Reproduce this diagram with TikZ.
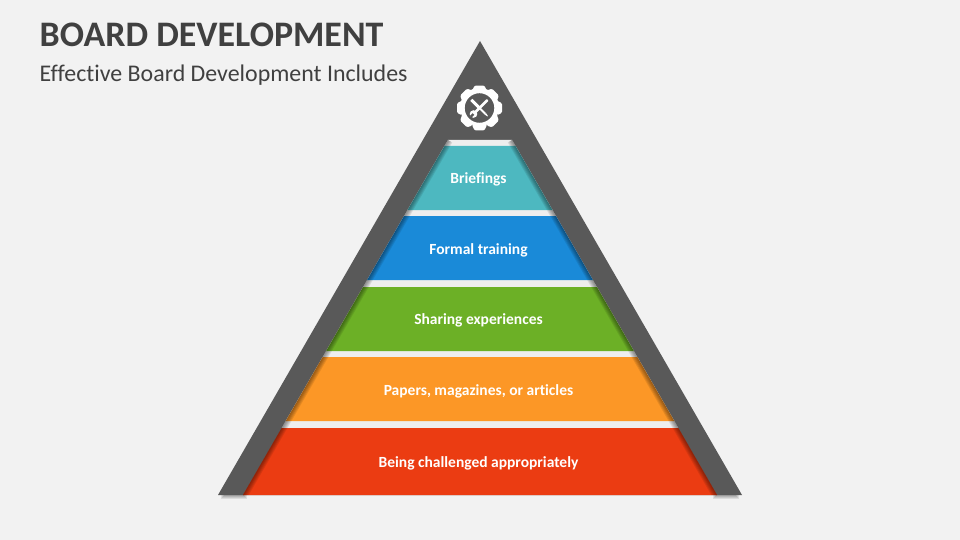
\documentclass[tikz,border=0pt]{standalone}
\usepackage{fontspec}
\setmainfont[Ligatures=CommonOff]{Carlito}
\usetikzlibrary{calc}
\definecolor{pagebg}{HTML}{F2F2F2}
\definecolor{stripc}{HTML}{EEEEEE}
\definecolor{pyr}{HTML}{595959}
\definecolor{inkc}{HTML}{404040}
\definecolor{teal1}{HTML}{4DB8C0}
\definecolor{blue1}{HTML}{1A8AD8}
\definecolor{green1}{HTML}{6CB026}
\definecolor{orange1}{HTML}{FC9726}
\definecolor{red1}{HTML}{EB3C12}
\tikzset{
  bandlabel/.style={text=white,font=\fontsize{15.5}{17}\selectfont\bfseries,inner sep=0pt,anchor=center},
  titletext/.style={text=inkc,font=\fontsize{35.9}{38}\selectfont\bfseries,inner sep=0pt,anchor=base west},
  subtext/.style={text=inkc,font=\fontsize{23.9}{26}\selectfont,inner sep=0pt,anchor=base west},
  softedge/.style={black,opacity=.09,line cap=butt},
}
% left edge x at pixel y (inner), right edge is mirrored about 480
\newcommand{\bandshape}[3]{%
  \fill[#3] ({243+(495-#1)*0.5772},#1) -- ({717-(495-#1)*0.5772},#1)
            -- ({717-(495-#2)*0.5772},#2) -- ({243+(495-#2)*0.5772},#2) -- cycle;}
\begin{document}
\begin{tikzpicture}[x=1pt,y=-1pt]
\useasboundingbox (0,0) rectangle (960,540);
\fill[pagebg] (0,0) rectangle (960,540);

\node[titletext] (title) at (39.5,46.5) {BOARD DEVELOPMENT};
\node[subtext] (subtitle) at (39.5,81.5) {Effective Board Development Includes};

% shadow under the pyramid's feet
\foreach \w in {0,1,2,3}{
  \fill[black,opacity=.09] (221+\w,495) rectangle (247-\w,498.5-\w);
  \fill[black,opacity=.09] (713+\w,495) rectangle (739-\w,498.5-\w);
}

% pyramid
\fill[pyr] (480,41) -- (742,495) -- (218,495) -- cycle;

% strip ground and bands
\bandshape{140}{428}{stripc}
\bandshape{146}{210}{teal1}
\bandshape{216}{280}{blue1}
\bandshape{287}{351}{green1}
\bandshape{357}{421}{orange1}
\bandshape{428}{495}{red1}

% soft shadow thrown by the pyramid's arms
\begin{scope}
  \clip (447.9,140) -- (512.1,140) -- (717,495) -- (243,495) -- cycle;
  \foreach \w in {2,4,6,8,10}{
    \draw[softedge,line width=\w pt] (447.9,140) -- (243,495);
    \draw[softedge,line width=\w pt] (512.1,140) -- (717,495);
  }
\end{scope}

% labels
\node[bandlabel] (l1) at (478.5,179) {Briefings};
\node[bandlabel] (l2) at (478.5,250) {Formal training};
\node[bandlabel] (l3) at (478.5,320) {Sharing experiences};
\node[bandlabel] (l4) at (478.5,391) {Papers, magazines, or articles};
\node[bandlabel] (l5) at (478.5,463) {Being challenged appropriately};

% gear icon
\begin{scope}[shift={(479.5,108)}]
  \fill[white,even odd rule,rounded corners=1.2pt]
    (67.5+0:19) \foreach \a in {0,45,...,315}{
      -- (\a+67.5:19) -- (\a+78:23) -- (\a+102:23) -- (\a+112.5:19)
    } -- cycle
    (0:14.8) arc[start angle=0,end angle=360,radius=14.8];
  % screwdriver
  \begin{scope}[rotate=45]
    \fill[white] (-1.5,-11.5) rectangle (1.5,-1);
    \fill[white] (-1,-1) rectangle (1,8);
    \fill[white] (-1,8) -- (1,8) -- (.4,11.5) -- (-.4,11.5) -- cycle;
  \end{scope}
  % wrench
  \begin{scope}[rotate=-45]
    \fill[white,rounded corners=.6pt] (-1.4,-11.5) rectangle (1.4,7);
    \fill[white] (0,8.5) circle[radius=3.8];
    \fill[pyr] (-1.1,8.5) rectangle (1.1,12.5);
  \end{scope}
\end{scope}
\end{tikzpicture}
\end{document}
